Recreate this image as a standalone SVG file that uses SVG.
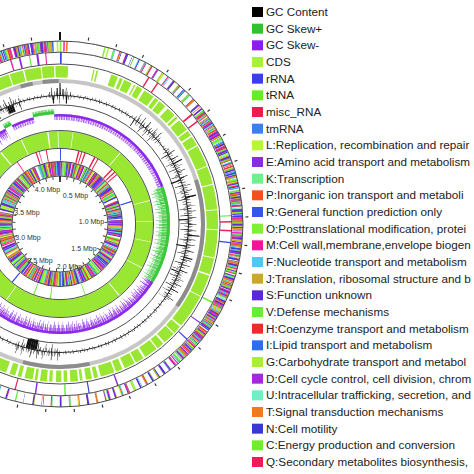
<svg xmlns="http://www.w3.org/2000/svg" width="474" height="474" viewBox="0 0 474 474">
<style>
circle{fill:none}
.p1{stroke:#8b2be8;stroke-dasharray:1.6 7}
.p2{stroke:#3046f0;stroke-dasharray:1.2 9.5;stroke-dashoffset:2}
.p3{stroke:#ff20b0;stroke-dasharray:1.1 11.3;stroke-dashoffset:4}
.p4{stroke:#66ee33;stroke-dasharray:1.8 8.9;stroke-dashoffset:6}
.p5{stroke:#bff22e;stroke-dasharray:1.5 13;stroke-dashoffset:1}
.p6{stroke:#ff7a1a;stroke-dasharray:1.2 16;stroke-dashoffset:7}
.p7{stroke:#3fc8f0;stroke-dasharray:1 14.7;stroke-dashoffset:9}
.p8{stroke:#ff2d3a;stroke-dasharray:1 18.5;stroke-dashoffset:5}
.p9{stroke:#c8a825;stroke-dasharray:1.2 20;stroke-dashoffset:11}
.p10{stroke:#5a2ee0;stroke-dasharray:1.5 12;stroke-dashoffset:3}
.p11{stroke:#5cf5c0;stroke-dasharray:1 22;stroke-dashoffset:13}
.p12{stroke:#ff3377;stroke-dasharray:1 17;stroke-dashoffset:8}
.ol{stroke:#222;stroke-width:0.8}
.lt{font-family:"Liberation Sans",Arial,sans-serif;font-size:11.7px;fill:#222}
.sc{font-family:"Liberation Sans",Arial,sans-serif;font-size:7px;fill:#333;text-anchor:middle}
</style>
<defs>
<clipPath id="cAm"><polygon points="60,224 147.7,-62.9 289.8,31.2"/><polygon points="60,224 252.8,453.8 137.6,513.8"/></clipPath>
<clipPath id="cAs"><polygon points="60,224 137.6,513.8 -42.6,505.9"/></clipPath>
<clipPath id="cAe"><polygon points="60,224 49.5,-75.8 147.7,-62.9"/></clipPath>
<clipPath id="cGC"><polygon points="60,224 33.8,-74.9 86.2,-74.9"/><polygon points="60,224 232.1,-21.8 289.8,31.2"/><polygon points="60,224 305.8,51.9 360,224 305.8,396.1"/><polygon points="60,224 60,524 -42.6,505.9"/><polygon points="60,224 -90,-35.8 -32.7,-61.3"/></clipPath>
<clipPath id="cGo"><polygon points="60,224 -12.6,-67.1 44.3,-75.6"/><polygon points="60,224 -90,-35.8 -71.5,-45.6"/></clipPath>
<clipPath id="cGi"><polygon points="60,224 341.9,121.4 360,224 314.4,383"/></clipPath>
<clipPath id="cP"><polygon points="60,224 44.3,-75.6 232.1,-21.8 341.9,121.4"/><polygon points="60,224 314.4,383 137.6,513.8 -42.6,505.9 -235.4,276.1 -199.8,74 -90,-35.8"/><polygon points="60,224 -71.5,-45.6 -12.6,-67.1"/></clipPath>
<clipPath id="cP2"><polygon points="60,224 314.4,383 137.6,513.8 -42.6,505.9 -235.4,276.1 -199.8,74 -90,-35.8"/></clipPath>
<g id="setA">
<circle class="p1" cx="60" cy="224" r="177.5"/><circle class="p2" cx="60" cy="224" r="177.5"/><circle class="p3" cx="60" cy="224" r="177.5"/><circle class="p4" cx="60" cy="224" r="177.5"/><circle class="p5" cx="60" cy="224" r="177.5"/><circle class="p6" cx="60" cy="224" r="177.5"/><circle class="p7" cx="60" cy="224" r="177.5"/><circle class="p8" cx="60" cy="224" r="177.5"/><circle class="p9" cx="60" cy="224" r="177.5"/><circle class="p10" cx="60" cy="224" r="177.5"/><circle class="p11" cx="60" cy="224" r="177.5"/><circle class="p12" cx="60" cy="224" r="177.5"/>
</g>
<g id="setI">
<circle class="p1" cx="60" cy="224" r="55.25"/><circle class="p2" cx="60" cy="224" r="55.25"/><circle class="p3" cx="60" cy="224" r="55.25"/><circle class="p4" cx="60" cy="224" r="55.25"/><circle class="p5" cx="60" cy="224" r="55.25"/><circle class="p6" cx="60" cy="224" r="55.25"/><circle class="p7" cx="60" cy="224" r="55.25"/><circle class="p8" cx="60" cy="224" r="55.25"/><circle class="p9" cx="60" cy="224" r="55.25"/><circle class="p10" cx="60" cy="224" r="55.25"/><circle class="p11" cx="60" cy="224" r="55.25"/><circle class="p12" cx="60" cy="224" r="55.25"/>
</g>
</defs>
<rect width="474" height="474" fill="#fff"/>

<g id="map">
<g id="ring-cog-outer" stroke-width="10">
<use href="#setA"/>
<use href="#setA" transform="rotate(47 60 224)"/>
<circle cx="60" cy="224" r="177.5" stroke="#fff" stroke-width="10.6" stroke-dasharray="4 2.6" clip-path="url(#cAm)"/>
<circle cx="60" cy="224" r="177.5" stroke="#fff" stroke-width="10.6" stroke-dasharray="7 2" clip-path="url(#cAs)"/>
<circle cx="60" cy="224" r="177.5" stroke="#fff" stroke-width="10.6" clip-path="url(#cAe)"/>
<g stroke-width="1.6">
<line x1="60" y1="51.5" x2="60" y2="41.5" stroke="#b8f535" transform="rotate(-0.8 60 224)"/>
<line x1="60" y1="51.5" x2="60" y2="41.5" stroke="#88ee44" transform="rotate(0.2 60 224)"/>
<line x1="60" y1="51.5" x2="60" y2="41.5" stroke="#ff3399" transform="rotate(1.3 60 224)"/>
<line x1="60" y1="51.5" x2="60" y2="41.5" stroke="#f27a1c" transform="rotate(2.2 60 224)"/>
<line x1="60" y1="51.5" x2="60" y2="41.5" stroke="#88ee44" transform="rotate(14.3 60 224)"/>
<line x1="60" y1="51.5" x2="60" y2="41.5" stroke="#b8f535" transform="rotate(15.4 60 224)"/>
</g>
</g>

<g id="ring-b" stroke-width="11.2" transform="rotate(-90 60 224)">
<circle cx="60" cy="224" r="165.9" pathLength="360" stroke="#8a2be2" stroke-dasharray="0 125 0.4 34.6 0.5 27.5 0.5 157.5 0.6 5.4 0.7 7.3"/>
<circle cx="60" cy="224" r="165.9" pathLength="360" stroke="#ff22aa" stroke-dasharray="0 343 0.5 11.5 0.4 4.6"/>
<circle cx="60" cy="224" r="165.9" pathLength="360" stroke="#66ee33" stroke-dasharray="0 87 0.4 29.6 0.5 60.5 0.5 171 0.4 10.1"/>
<circle cx="60" cy="224" r="165.9" pathLength="360" stroke="#ee2255" stroke-dasharray="0 31 0.5 3 0.5 15 0.6 2.4 0.5 35.5 0.5 2.5 0.5 102.5 0.4 164.6"/>
<circle cx="60" cy="224" r="165.9" pathLength="360" stroke="#3344ee" stroke-dasharray="0.6 95.4 0.5 35.5 0.4 37.6 0.4 189.6"/>
</g>

<g id="ring-cds-outer" transform="rotate(-90 60 224)">
<circle cx="60" cy="224" r="152.25" stroke-width="11.5" pathLength="360" stroke="#99e633" stroke-dasharray="3 9.2 0.5 0.7 0.6 5 2.5 0.8 1.2 0.5 3 1 0.6 0.6 2.2 0.9 4 0.7 1.5 0.5 2.8 1.2 3.5 0.6 1 0.8 4.5 0.5 2 0.6 3.5 0.4 8 0.3 6.5 0.4 9 0.3 7 0.4 10 0.3 6 0.5 8 0.3 12.6 0.6 3 0.4 4.5 0.7 2.6 0.5 5 0.8 3.2 0.5 4 0.9 2.5 0.6 5.2 1 1.5 0.8 2.2 1.2 1 0.7 2.8 1.1 1.3 0.9 2 1.3 1.2 0.8 2.5 1 1 0.7 3 1.2 1.4 0.9 2.2 1.3 141 0.4 5 0.5 6 0.4 4.5 0.5 1.7"/>
</g>

<g id="ring-gray" stroke-width="4" transform="rotate(-90 60 224)">
<circle cx="60" cy="224" r="143" stroke="#c6c6c6"/>
<circle cx="60" cy="224" r="143" pathLength="360" stroke="#8c8c8c" stroke-dasharray="0 72 53 43 27 149 5 4 6.5 0.5"/>
</g>

<g id="gc-content" stroke="#111">
<circle cx="60" cy="224" r="128.5" stroke-width="0.9"/>
<circle cx="60" cy="224" r="129.5" stroke-width="2" stroke-dasharray="0.5 2.5 0.4 3.8 0.6 1.9 0.3 4.6"/>
<circle cx="60" cy="224" r="127.5" stroke-width="2" stroke-dasharray="0.4 3.1 0.6 4.2 0.3 2.4 0.5 5.3" stroke-dashoffset="1.3"/>
<g clip-path="url(#cGC)">
<circle cx="60" cy="224" r="130.5" stroke-width="4" stroke-dasharray="0.5 1.8 0.4 2.9 0.6 1.5 0.3 2.5"/>
<circle cx="60" cy="224" r="126.5" stroke-width="4" stroke-dasharray="0.5 2.1 0.4 3 0.6 1.7 0.3 2.6" stroke-dashoffset="0.7"/>
<circle cx="60" cy="224" r="132.5" stroke-width="8" stroke-dasharray="0.5 6 0.6 8.5 0.4 5"/>
<circle cx="60" cy="224" r="124.5" stroke-width="8" stroke-dasharray="0.4 7 0.6 9.2 0.5 5.8" stroke-dashoffset="2"/>
</g>
<g stroke-width="1.1">
<line x1="60" y1="96" x2="60" y2="83"/>
<line x1="60" y1="96" x2="60" y2="88" transform="rotate(-1.2 60 224)"/>
<line x1="60" y1="96" x2="60" y2="89" transform="rotate(1.3 60 224)"/>
<line x1="60" y1="103" x2="60" y2="96" transform="rotate(-3 60 224)"/>
<line x1="60" y1="103" x2="60" y2="96" transform="rotate(3 60 224)"/>
<line x1="60" y1="96" x2="60" y2="86" transform="rotate(62 60 224)"/>
<line x1="60" y1="96" x2="60" y2="85" transform="rotate(78 60 224)"/>
<line x1="60" y1="96" x2="60" y2="84" transform="rotate(95 60 224)"/>
<line x1="60" y1="96" x2="60" y2="87" transform="rotate(105 60 224)"/>
<line x1="60" y1="106" x2="60" y2="96" transform="rotate(70 60 224)"/>
<line x1="60" y1="105" x2="60" y2="96" transform="rotate(88 60 224)"/>
<line x1="60" y1="106" x2="60" y2="96" transform="rotate(100 60 224)"/>
<line x1="60" y1="104" x2="60" y2="96" transform="rotate(112 60 224)"/>
</g>
<g stroke-width="2.3">
<line x1="60" y1="106" x2="60" y2="96" transform="rotate(191 60 224)"/>
<line x1="60" y1="106" x2="60" y2="96" transform="rotate(192 60 224)"/>
<line x1="60" y1="106" x2="60" y2="96" transform="rotate(193 60 224)"/>
<line x1="60" y1="106" x2="60" y2="96" transform="rotate(194 60 224)"/>
<line x1="60" y1="105" x2="60" y2="96" transform="rotate(195 60 224)"/>
<line x1="60" y1="103" x2="60" y2="96" transform="rotate(-24 60 224)"/>
<line x1="60" y1="103" x2="60" y2="96" transform="rotate(-23 60 224)"/>
<line x1="60" y1="103" x2="60" y2="96" transform="rotate(-22 60 224)"/>
</g>
</g>

<g id="gc-skew">
<g clip-path="url(#cP)" stroke="#8c2bea">
<circle cx="60" cy="224" r="108.75" stroke-width="2.5"/>
<circle cx="60" cy="224" r="107" stroke-width="6" stroke-dasharray="0.7 0.5 0.4 0.9 0.8 0.4 0.3 1"/>
</g>
<g clip-path="url(#cP2)" stroke="#8c2bea">
<circle cx="60" cy="224" r="105.5" stroke-width="9" stroke-dasharray="0.5 1.2 0.6 1.8 0.4 0.9 0.7 2.4"/>
<circle cx="60" cy="224" r="104" stroke-width="12" stroke-dasharray="0.4 3.5 0.5 6.2 0.3 4.1"/>
</g>
<g clip-path="url(#cGi)" stroke="#3cc83c">
<circle cx="60" cy="224" r="108.5" stroke-width="3"/>
<circle cx="60" cy="224" r="106" stroke-width="8" stroke-dasharray="0.7 0.4 0.5 0.8 0.6 0.5"/>
<circle cx="60" cy="224" r="104.5" stroke-width="11" stroke-dasharray="0.5 1 0.6 1.5 0.4 0.8"/>
<circle cx="60" cy="224" r="103" stroke-width="14" stroke-dasharray="0.4 3 0.5 4.4"/>
</g>
<g clip-path="url(#cGo)" stroke="#3cc83c">
<circle cx="60" cy="224" r="111.5" stroke-width="3"/>
<circle cx="60" cy="224" r="112.5" stroke-width="5" stroke-dasharray="0.6 0.4 0.5 0.7 0.7 0.3"/>
</g>
</g>

<g id="ring-cds-inner" stroke-width="17">
<circle cx="60" cy="224" r="84.5" stroke="#99e633"/>
<circle cx="60" cy="224" r="84.5" pathLength="360" stroke="#fff" transform="rotate(-90 60 224)" stroke-dasharray="0 8 0.4 31.6 0.5 34.5 0.4 12.6 0.5 12.5 0.4 16.6 0.5 21.5 0.6 74.4 0.5 104.5 0.8 14.2 0.6 16.4 0.8 5.7 0.5 1"/>
</g>

<g id="ring-rna" stroke-width="12" transform="rotate(-90 60 224)">
<circle cx="60" cy="224" r="69.25" pathLength="360" stroke="#ee2244" stroke-dasharray="0 14 1.2 1.3 0.8 1.7 1 7 1.2 1.8 0.8 12.2 1.2 1.8 1 1.5 0.8 291.7 1 7 0.8 10.2"/>
<circle cx="60" cy="224" r="69.25" pathLength="360" stroke="#3344ee" stroke-dasharray="0.8 71.2 1 146 1 140"/>
<circle cx="60" cy="224" r="69.25" pathLength="360" stroke="#66ee33" stroke-dasharray="0 160 0.6 26.4 0.8 12.2 0.8 159.2"/>
<circle cx="60" cy="224" r="69.25" pathLength="360" stroke="#ff3399" stroke-dasharray="0 325 0.8 17.7 0.6 15.9"/>
</g>

<g id="ring-cog-inner" stroke-width="13.5">
<use href="#setI"/>
<use href="#setI" transform="rotate(47 60 224)"/>
</g>

<g id="outlines" class="ol">
<circle cx="60" cy="224" r="183"/>
<circle cx="60" cy="224" r="171.8"/>
<circle cx="60" cy="224" r="160"/>
<circle cx="60" cy="224" r="119"/>
<circle cx="60" cy="224" r="93.5"/>
<circle cx="60" cy="224" r="75.6"/>
<circle cx="60" cy="224" r="62.6"/>
<circle cx="60" cy="224" r="48"/>
</g>

<g id="scale-outer" stroke="#333">
<circle cx="60" cy="224" r="187" stroke-width="3" pathLength="360" stroke-dasharray="0.35 8.43" stroke-dashoffset="0.17" transform="rotate(-90 60 224)"/>
<line x1="60" y1="40" x2="60" y2="32" stroke-width="2" stroke="#111"/>
</g>
<g id="scale-inner" stroke="#333">
<circle cx="60" cy="224" r="46" stroke-width="3" pathLength="360" stroke-dasharray="1.1 7.68" stroke-dashoffset="0.55" transform="rotate(-90 60 224)"/>
<line x1="60" y1="176" x2="60" y2="182" stroke-width="1.5" stroke="#111"/>
</g>
<g id="scale-labels" class="sc">
<text x="47.5" y="191.5">4.0 Mbp</text>
<text x="75.5" y="197.5">0.5 Mbp</text>
<text x="27" y="214.5">3.5 Mbp</text>
<text x="91.5" y="223.5">1.0 Mbp</text>
<text x="28" y="239.5">3.0 Mbp</text>
<text x="84" y="250.5">1.5 Mbp</text>
<text x="40" y="262.5">2.5 Mbp</text>
<text x="69.5" y="268.5">2.0 Mbp</text>
</g>
</g>

<g id="legend">
<g id="lg-gc"><rect x="252" y="7" width="11" height="10" fill="#000"/><text class="lt" x="266" y="16.1">GC Content</text></g>
<g id="lg-skp"><rect x="252" y="23.67" width="11" height="10" fill="#2fc42f"/><text class="lt" x="266" y="32.77">GC Skew+</text></g>
<g id="lg-skm"><rect x="252" y="40.33" width="11" height="10" fill="#8a1ef0"/><text class="lt" x="266" y="49.43">GC Skew-</text></g>
<g id="lg-cds"><rect x="252" y="57" width="11" height="10" fill="#a6f23a"/><text class="lt" x="266" y="66.1">CDS</text></g>
<g id="lg-rrna"><rect x="252" y="73.67" width="11" height="10" fill="#3c3cf2"/><text class="lt" x="266" y="82.77">rRNA</text></g>
<g id="lg-trna"><rect x="252" y="90.33" width="11" height="10" fill="#66ee22"/><text class="lt" x="266" y="99.43">tRNA</text></g>
<g id="lg-misc"><rect x="252" y="107" width="11" height="10" fill="#ee1c4c"/><text class="lt" x="266" y="116.1">misc_RNA</text></g>
<g id="lg-tm"><rect x="252" y="123.67" width="11" height="10" fill="#3a7ef0"/><text class="lt" x="266" y="132.77">tmRNA</text></g>
<g id="lg-L"><rect x="252" y="140.33" width="11" height="10" fill="#b8f535"/><text class="lt" x="266" y="149.43">L:Replication, recombination and repair</text></g>
<g id="lg-E"><rect x="252" y="157" width="11" height="10" fill="#8a2be8"/><text class="lt" x="266" y="166.1">E:Amino acid transport and metabolism</text></g>
<g id="lg-K"><rect x="252" y="173.67" width="11" height="10" fill="#6ef08c"/><text class="lt" x="266" y="182.77">K:Transcription</text></g>
<g id="lg-P"><rect x="252" y="190.33" width="11" height="10" fill="#f4501e"/><text class="lt" x="266" y="199.43">P:Inorganic ion transport and metaboli</text></g>
<g id="lg-R"><rect x="252" y="207" width="11" height="10" fill="#3355ee"/><text class="lt" x="266" y="216.1">R:General function prediction only</text></g>
<g id="lg-O"><rect x="252" y="223.67" width="11" height="10" fill="#80f030"/><text class="lt" x="266" y="232.77">O:Posttranslational modification, protei</text></g>
<g id="lg-M"><rect x="252" y="240.33" width="11" height="10" fill="#f0159b"/><text class="lt" x="266" y="249.43">M:Cell wall,membrane,envelope biogen</text></g>
<g id="lg-F"><rect x="252" y="257" width="11" height="10" fill="#4ec8f0"/><text class="lt" x="266" y="266.1">F:Nucleotide transport and metabolism</text></g>
<g id="lg-J"><rect x="252" y="273.67" width="11" height="10" fill="#c9a82a"/><text class="lt" x="266" y="282.77">J:Translation, ribosomal structure and b</text></g>
<g id="lg-S"><rect x="252" y="290.33" width="11" height="10" fill="#5a28d8"/><text class="lt" x="266" y="299.43">S:Function unknown</text></g>
<g id="lg-V"><rect x="252" y="307" width="11" height="10" fill="#66ee33"/><text class="lt" x="266" y="316.1">V:Defense mechanisms</text></g>
<g id="lg-H"><rect x="252" y="323.67" width="11" height="10" fill="#ee2a2a"/><text class="lt" x="266" y="332.77">H:Coenzyme transport and metabolism</text></g>
<g id="lg-I"><rect x="252" y="340.33" width="11" height="10" fill="#2f6cf0"/><text class="lt" x="266" y="349.43">I:Lipid transport and metabolism</text></g>
<g id="lg-G"><rect x="252" y="357" width="11" height="10" fill="#a8f030"/><text class="lt" x="266" y="366.1">G:Carbohydrate transport and metabol</text></g>
<g id="lg-D"><rect x="252" y="373.67" width="11" height="10" fill="#a526e0"/><text class="lt" x="266" y="382.77">D:Cell cycle control, cell division, chrom</text></g>
<g id="lg-U"><rect x="252" y="390.33" width="11" height="10" fill="#6cf0c4"/><text class="lt" x="266" y="399.43">U:Intracellular trafficking, secretion, and</text></g>
<g id="lg-T"><rect x="252" y="407" width="11" height="10" fill="#f27a1c"/><text class="lt" x="266" y="416.1">T:Signal transduction mechanisms</text></g>
<g id="lg-N"><rect x="252" y="423.67" width="11" height="10" fill="#3838d8"/><text class="lt" x="266" y="432.77">N:Cell motility</text></g>
<g id="lg-C"><rect x="252" y="440.33" width="11" height="10" fill="#70ee2a"/><text class="lt" x="266" y="449.43">C:Energy production and conversion</text></g>
<g id="lg-Q"><rect x="252" y="457" width="11" height="10" fill="#f01a5a"/><text class="lt" x="266" y="466.1">Q:Secondary metabolites biosynthesis,</text></g>
</g>
</svg>
